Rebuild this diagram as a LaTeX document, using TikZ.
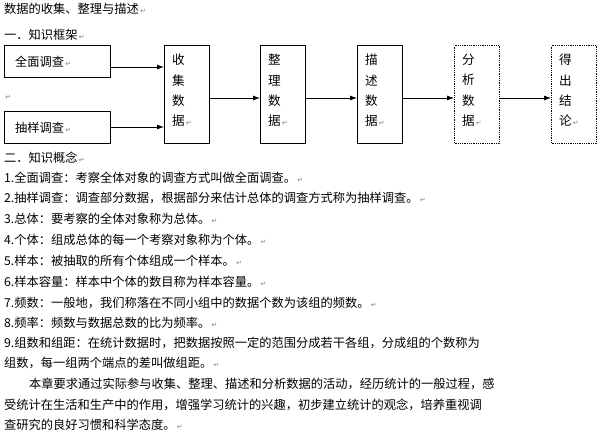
\documentclass[tikz,border=0pt]{standalone}
\usepackage{fontspec}
\setmainfont{Noto Sans CJK SC}
\newfontfamily\dv{DejaVu Sans}
\usetikzlibrary{arrows.meta}
\newcommand{\parmark}{{\dv\color{gray}\fontsize{7}{7}\selectfont\,↵}}
\begin{document}
\begin{tikzpicture}[x=1pt,y=-1pt,
  txt/.style={anchor=west,inner sep=0pt,font=\fontsize{12.25}{13}\selectfont},
  lbox/.style={draw,line width=0.8pt,minimum width=106pt,minimum height=32pt,anchor=north west,inner sep=0pt},
  vbox/.style={draw,line width=0.8pt,minimum width=45pt,minimum height=98pt,anchor=north west,inner sep=0pt},
  dbox/.style={vbox,densely dotted,line width=1.2pt},
  arr/.style={-{Latex[length=7pt,width=5pt]},line width=0.8pt},
  vt/.style={anchor=north west,inner sep=0pt,align=left,font=\fontsize{12.6}{20.3}\selectfont}]
\useasboundingbox (0,0) rectangle (602,440);
\fill[white] (0,0) rectangle (602,440);
\node[txt] (t0) at (4,9) {数据的收集、整理与描述\parmark};
\node[txt] (t1) at (4,35) {一．知识框架\parmark};
\node[lbox] (qm) at (4,45) {};
\node[txt] (qmt) at (15,62) {全面调查\parmark};
\node[lbox] (cy) at (4,111) {};
\node[txt] (cyt) at (15,128) {抽样调查\parmark};
\node[txt] (p0) at (4,97) {\parmark};
\node[vbox] (b1) at (164,45) {};
\node[vbox] (b2) at (260,45) {};
\node[vbox] (b3) at (357,45) {};
\node[dbox] (b4) at (454,45) {};
\node[dbox] (b5) at (551,45) {};
\node[vt] (v1) at (172,54) {收\\集\\数\\据\parmark};
\node[vt] (v2) at (268,54) {整\\理\\数\\据\parmark};
\node[vt] (v3) at (365,54) {描\\述\\数\\据\parmark};
\node[vt] (v4) at (462,54) {分\\析\\数\\据\parmark};
\node[vt] (v5) at (559,54) {得\\出\\结\\论\parmark};
\draw[arr] (qm.east|-0,67) -- (b1.west|-0,67);
\draw[arr] (cy.east|-0,127) -- (b1.west|-0,127);
\draw[arr] (b1.east|-0,98) -- (b2.west|-0,98);
\draw[arr] (b2.east|-0,98) -- (b3.west|-0,98);
\draw[arr] (b3.east|-0,98) -- (b4.west|-0,98);
\draw[arr] (b4.east|-0,98) -- (b5.west|-0,98);
\node[txt] (l0) at (4,158) {二．知识概念\parmark};
\node[txt] (l1) at (4,178) {1.全面调查：考察全体对象的调查方式叫做全面调查。\parmark};
\node[txt] (l2) at (4,198) {2.抽样调查：调查部分数据，根据部分来估计总体的调查方式称为抽样调查。\parmark};
\node[txt] (l3) at (4,219) {3.总体：要考察的全体对象称为总体。\parmark};
\node[txt] (l4) at (4,240) {4.个体：组成总体的每一个考察对象称为个体。\parmark};
\node[txt] (l5) at (4,261) {5.样本：被抽取的所有个体组成一个样本。\parmark};
\node[txt] (l6) at (4,282) {6.样本容量：样本中个体的数目称为样本容量。\parmark};
\node[txt] (l7) at (4,303) {7.频数：一般地，我们称落在不同小组中的数据个数为该组的频数。\parmark};
\node[txt] (l8) at (4,323) {8.频率：频数与数据总数的比为频率。\parmark};
\node[txt] (l9) at (4,343) {9.组数和组距：在统计数据时，把数据按照一定的范围分成若干各组，分成组的个数称为};
\node[txt] (l10) at (4,363) {组数，每一组两个端点的差叫做组距。\parmark};
\node[txt] (l11) at (29,384) {本章要求通过实际参与收集、整理、描述和分析数据的活动，经历统计的一般过程，感};
\node[txt] (l12) at (4,405) {受统计在生活和生产中的作用，增强学习统计的兴趣，初步建立统计的观念，培养重视调};
\node[txt] (l13) at (4,425) {查研究的良好习惯和科学态度。\parmark};
\end{tikzpicture}
\end{document}
